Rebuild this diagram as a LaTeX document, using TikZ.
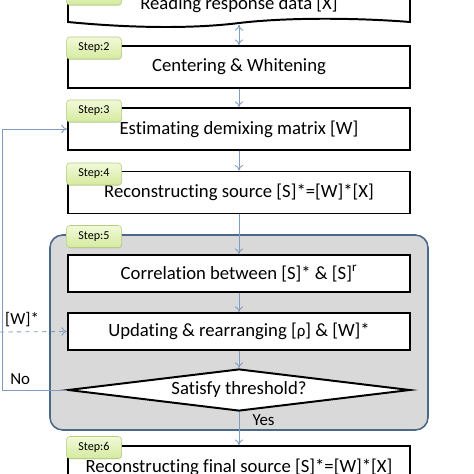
\documentclass[tikz,border=0pt]{standalone}
\usepackage{fontspec}
\setmainfont{Carlito}[Ligatures=NoCommon]
\usetikzlibrary{positioning,calc}
\usetikzlibrary{shapes.geometric}
\usetikzlibrary{shadows}
\definecolor{flowblue}{HTML}{7F9BC0}
\definecolor{groupline}{HTML}{4A6887}
\definecolor{groupfill}{HTML}{D9D9D9}
\definecolor{tagline}{HTML}{B3CF7E}
\definecolor{tagtop}{HTML}{F2F9DA}
\definecolor{tagbot}{HTML}{D5EA9E}
\tikzset{
    x=0.025cm, y=-0.025cm, % one unit is one pixel of the reference
    stepbox/.style={draw=black, line width=1.4pt, fill=white,
        minimum width=8.55cm, minimum height=1.05cm, inner sep=0pt,
        font=\fontsize{13.3}{15}\selectfont},
    steptag/.style={draw=tagline, top color=tagtop, bottom color=tagbot,
        rounded corners=2.5pt, minimum width=1.38cm, minimum height=0.55cm,
        inner sep=0pt, drop shadow={opacity=0.25, shadow xshift=0.4pt, shadow yshift=-0.6pt},
        font=\fontsize{8.6}{10}\selectfont},
    flow/.style={->, >={To[length=4pt, width=6pt, open]}, draw=flowblue, line width=0.6pt}, % thin connectors
    side/.style={font=\fontsize{12}{14}\selectfont},
}
\usetikzlibrary{arrows.meta}
\begin{document}
\begin{tikzpicture}
  \useasboundingbox (0,0) rectangle (474,474);

  % group of step 5
  \draw[groupline, fill=groupfill, line width=1.1pt, rounded corners=9pt]
      (50,235) rectangle (428,430);

  % step 1: document shape
  \draw[stepbox] (68,-30) -- (68,22)
      .. controls (140,29) and (200,28) .. (239,23)
      .. controls (290,17) and (360,18) .. (410,22) -- (410,-30);
  \node[font=\fontsize{13.3}{15}\selectfont] (b1) at (239,4) {Reading response data [X]};
  \coordinate (b1s) at (239,25);

  \node[stepbox] (b2) at (239,67)    {Centering \& Whitening};
  \node[stepbox] (b3) at (239,129)   {Estimating demixing matrix [W]};
  \node[stepbox] (b4) at (239,192.5) {Reconstructing source [S]*=[W]*[X]};
  \node[stepbox, minimum height=0.925cm] (b5) at (239,273.5) {Correlation between [S]* \& [S]\textsuperscript{r}};
  \node[stepbox, minimum height=0.925cm] (b6) at (239,331.5) {Updating \& rearranging [{\fontsize{12}{14}\selectfont ρ}] \& [W]*};
  \node[stepbox, diamond, aspect=8.1] (dia) at (239,390) {Satisfy threshold?};
  \node[stepbox] (b7) at (239,467)   {Reconstructing final source [S]*=[W]*[X]};

  % step tags
  \node[steptag] (t1) at (94,-6)    {Step:1};
  \node[steptag] (t2) at (94,48)    {Step:2};
  \node[steptag] (t3) at (94,111)   {Step:3};
  \node[steptag] (t4) at (94,174)   {Step:4};
  \node[steptag] (t5) at (94,236.5) {Step:5};
  \node[steptag] (t6) at (94,447.5) {Step:6};

  \path[flow]
    (b1s) edge (b2)
    (b2)  edge (b3)
    (b3)  edge (b4)
    (b4)  edge (b5)
    (b5)  edge (b6)
    (b6)  edge (dia)
    (dia) edge node[side, right, pos=0.25, xshift=6pt] {Yes} (b7);

  % loop back and outside input
  \coordinate (win) at (0,332);
  \draw[flow] (dia.west) -- node[side, above, pos=0.72] {No} ++(-65,0) |- (b3.west);
  \draw[flow, dashed] (win) -- node[side, above, pos=0.33] {[W]*} (b6.west);
\end{tikzpicture}
\end{document}
